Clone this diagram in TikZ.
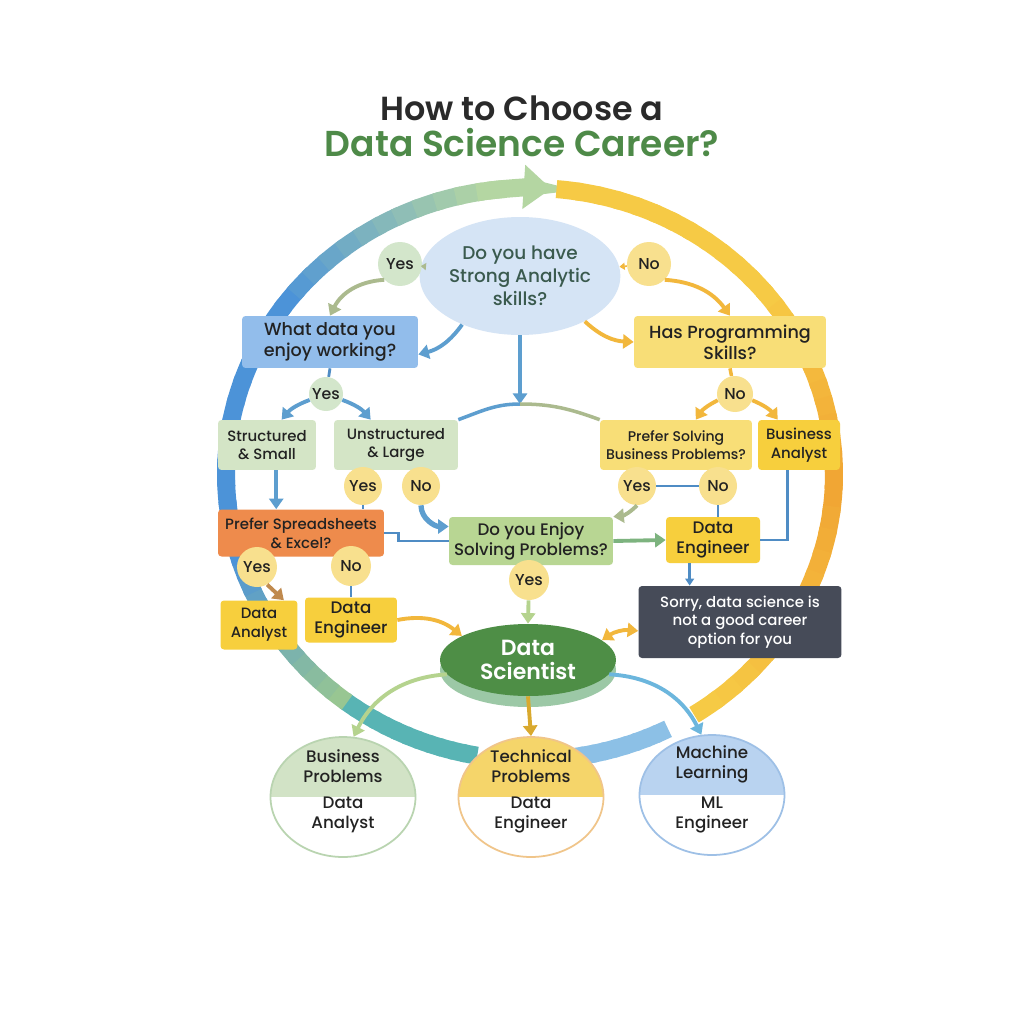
\documentclass[tikz,border=0pt]{standalone}
\usepackage{fontspec}
\setmainfont{Poppins}[UprightFont={* Medium}, BoldFont={* SemiBold}]
\usetikzlibrary{shapes.geometric,arrows.meta,positioning}

\definecolor{titledark}{HTML}{2A2A2A}
\definecolor{titlegreen}{HTML}{4E8A48}
\definecolor{textdark}{HTML}{222222}
\definecolor{qblue}{HTML}{D5E4F5}
\definecolor{qtext}{HTML}{3A5A4E}
\definecolor{boxblue}{HTML}{92BDEB}
\definecolor{boxpale}{HTML}{D4E5C6}
\definecolor{boxyellow}{HTML}{F8DE77}
\definecolor{boxgold}{HTML}{F7CF3D}
\definecolor{boxorange}{HTML}{EE8B4C}
\definecolor{boxlime}{HTML}{B8D693}
\definecolor{darkbox}{HTML}{464B58}
\definecolor{dsgreen}{HTML}{4E8E46}
\definecolor{dsrim}{HTML}{9CC8A6}
\definecolor{yesgreen}{HTML}{D3E6CB}
\definecolor{yesyellow}{HTML}{F8E08E}
\definecolor{arrowblue}{HTML}{5D9ECF}
\definecolor{arrowolive}{HTML}{ABBA8E}
\definecolor{arrowyellow}{HTML}{F2B73C}
\definecolor{arrowbrown}{HTML}{C08A4E}
\definecolor{arrowlime}{HTML}{B5D38E}
\definecolor{arrowgreen}{HTML}{7DB37F}
\definecolor{arrowsky}{HTML}{6CB6DD}
\definecolor{arrowgold}{HTML}{D9A92E}
\definecolor{linkblue}{HTML}{4F8CC4}
\definecolor{ringteal}{HTML}{58B4B4}
\definecolor{ringgreen}{HTML}{98C692}
\definecolor{ringblue}{HTML}{4C93D8}
\definecolor{ringpale}{HTML}{B4D6A2}
\definecolor{ringyellow}{HTML}{F6CA45}
\definecolor{ringorange}{HTML}{F1A634}
\definecolor{ringbblue}{HTML}{8CC0E6}
\definecolor{resgreen}{HTML}{D2E3C6}
\definecolor{resgreenline}{HTML}{B9D4B0}
\definecolor{restech}{HTML}{F5D56A}
\definecolor{restechline}{HTML}{F0C58A}
\definecolor{resml}{HTML}{B9D3F0}
\definecolor{resmlline}{HTML}{9EC0E6}

% one piece of the big ring, coloured from #3 to #4
\newcommand{\ringpart}[4]{%
  \foreach \i in {0,...,11}{
    \pgfmathsetmacro\ringa{#1+(#2-#1)*\i/12}
    \pgfmathsetmacro\ringb{#1+(#2-#1)*(\i+1.3)/12}
    \pgfmathtruncatemacro\ringmix{100-\i*100/11}
    \draw[ringline, #3!\ringmix!#4] ({530+304*cos(\ringa)},{474+286*sin(\ringa)})
      arc[start angle=\ringa, end angle=\ringb, x radius=304, y radius=286];
  }}

\begin{document}
\begin{tikzpicture}[x=0.02cm, y=-0.02cm,
    every node/.style={font=\fontsize{9.5}{11.5}\selectfont, text=textdark, align=center},
    ringline/.style={line width=0.36cm},
    qbox/.style={rounded corners=2pt, minimum height=1cm, inner sep=1pt},
    ans/.style={circle, inner sep=0pt, minimum size=0.76cm, font=\fontsize{9}{10}\selectfont},
    arr/.style={-{Triangle[length=6pt,width=8pt]}, line width=2.2pt},
    link/.style={line width=1.6pt, color=linkblue},
    result/.style={ellipse, minimum width=2.9cm, minimum height=2.4cm, line width=1pt, inner sep=0pt}
]
\path[use as bounding box, fill=white] (0,0) rectangle (1024,1024);

% Title
\node[font=\fontsize{19}{22}\selectfont\bfseries, text=titledark] (title1) at (522,108) {How to Choose a};
\node[font=\fontsize{20.5}{23}\selectfont\bfseries, text=titlegreen] (title2) at (522,143) {Data Science Career?};

% Ring
\ringpart{100}{127}{ringteal}{ringteal}
\ringpart{127}{165}{ringgreen}{ringblue}
\ringpart{165}{215}{ringblue}{ringblue}
\ringpart{215}{264}{ringblue}{ringpale}
\draw[ringline, ringpale, -{Triangle[length=0.55cm,width=0.85cm]}] ({530+304*cos(262)},{474+286*sin(262)})
  arc[start angle=262, end angle=274, x radius=304, y radius=286];
\ringpart{275}{320}{ringyellow}{ringyellow}
\ringpart{320}{362}{ringyellow}{ringorange}
\ringpart{362}{416}{ringorange}{ringyellow}
\ringpart{423}{448}{ringbblue}{ringbblue}

% Question
\node[ellipse, fill=qblue, minimum width=3.8cm, minimum height=2.36cm, inner sep=0pt, text=qtext,
  font=\fontsize{10.5}{13}\selectfont] (analytic) at (520,276) {Do you have\\Strong Analytic\\skills?};
\node[ans, fill=yesgreen, minimum size=0.88cm] (yesA) at (400,264) {Yes};
\node[ans, fill=yesyellow, minimum size=0.88cm] (noA) at (649,264) {No};
\coordinate (innerTop) at (520,404);

% Left side
\node[qbox, fill=boxblue, minimum width=3.52cm, minimum height=1.04cm, font=\fontsize{10}{12}\selectfont] (whatdata) at (330,342) {What data you\\enjoy working?};
\node[ans, fill=yesgreen, minimum size=0.68cm] (yesB) at (326,394) {Yes};
\node[qbox, fill=boxpale, minimum width=1.96cm, font=\fontsize{8.5}{10.5}\selectfont] (structured) at (267,445) {Structured\\\& Small};
\node[qbox, fill=boxpale, minimum width=2.48cm, font=\fontsize{8.5}{10.5}\selectfont] (unstructured) at (396,445) {Unstructured\\\& Large};
\node[ans, fill=yesyellow] (yesC) at (363,486) {Yes};
\node[ans, fill=yesyellow] (noC) at (421,486) {No};
\node[qbox, fill=boxorange, minimum width=3.32cm, minimum height=0.94cm, font=\fontsize{8.5}{11}\selectfont] (spreadsheet) at (301,533) {Prefer Spreadsheets\\\& Excel?};
\node[ans, fill=yesyellow, minimum size=0.8cm] (yesD) at (257,567) {Yes};
\node[ans, fill=yesyellow, minimum size=0.8cm] (noD) at (351,566) {No};
\node[qbox, fill=boxgold, minimum width=1.54cm, minimum height=0.98cm, font=\fontsize{8.5}{11}\selectfont] (analystL) at (259,625) {Data\\Analyst};
\node[qbox, fill=boxgold, minimum width=1.84cm, minimum height=0.9cm] (engineerL) at (351,620) {Data\\Engineer};

% Right side
\node[qbox, fill=boxyellow, minimum width=3.84cm, minimum height=1.04cm, font=\fontsize{10}{12}\selectfont] (programming) at (730,342) {Has Programming\\Skills?};
\node[ans, fill=yesyellow, minimum size=0.72cm] (noB) at (735,394) {No};
\node[qbox, fill=boxyellow, minimum width=3.04cm, font=\fontsize{8}{10.5}\selectfont] (business) at (676,445) {Prefer Solving\\Business Problems?};
\node[qbox, fill=boxgold, minimum width=1.64cm, font=\fontsize{8.5}{10.5}\selectfont] (banalyst) at (799,445) {Business\\Analyst};
\node[ans, fill=yesyellow] (yesE) at (637,486) {Yes};
\node[ans, fill=yesyellow] (noE) at (718,486) {No};
\node[qbox, fill=boxgold, minimum width=1.88cm, minimum height=0.92cm] (engineerR) at (713,540) {Data\\Engineer};
\node[qbox, fill=darkbox, text=white, minimum width=4.06cm, minimum height=1.44cm, font=\fontsize{8.5}{10.5}\selectfont] (sorry) at (740,622) {Sorry, data science is\\not a good career\\option for you};

% Middle
\node[qbox, fill=boxlime, minimum width=3.28cm, minimum height=0.96cm] (enjoy) at (531,541) {Do you Enjoy\\Solving Problems?};
\node[ans, fill=yesyellow, minimum size=0.8cm] (yesF) at (529,580) {Yes};
\fill[dsrim] (528,670) ellipse [x radius=88, y radius=37];
\node[ellipse, fill=dsgreen, minimum width=3.52cm, minimum height=1.44cm, inner sep=0pt, text=white,
  font=\fontsize{12.5}{14}\selectfont\bfseries] (scientist) at (528,660) {Data\\Scientist};

% Results
\node[result, draw=resgreenline, path picture={\fill[resgreen] (path picture bounding box.north west) rectangle (path picture bounding box.east);}] (resBusiness) at (343,797) {};
\node (topBusiness) at (343,766) {Business\\Problems};
\node (lowBusiness) at (343,815) {Data\\Analyst};
\node[result, draw=restechline, path picture={\fill[restech] (path picture bounding box.north west) rectangle (path picture bounding box.east);}] (resTechnical) at (531,797) {};
\node (topTechnical) at (531,766) {Technical\\Problems};
\node (lowTechnical) at (531,815) {Data\\Engineer};
\node[result, draw=resmlline, path picture={\fill[resml] (path picture bounding box.north west) rectangle (path picture bounding box.east);}] (resML) at (712,795) {};
\node (topML) at (712,764) {Machine\\Learning};
\node (lowML) at (712,815) {ML\\Engineer};

% Connectors
\draw[-{Triangle[length=3pt,width=4pt]}, line width=1pt, arrowolive] (yesA) -- (analytic);
\draw[-{Triangle[length=3pt,width=4pt]}, line width=1pt, arrowyellow] (noA) -- (analytic);
\draw[arr, arrowolive] (yesA.south west) to[bend right=30] (whatdata.north);
\draw[arr, arrowblue] (analytic.220) to[bend left=20] (whatdata.352);
\draw[arr, arrowyellow] (noA.south east) to[bend left=25] (programming.north);
\draw[arr, arrowyellow] (analytic.-35) to[bend right=20] (programming.west);
\draw[arr, arrowblue] (analytic.south) -- (innerTop);
\draw[line width=2pt, arrowblue] (unstructured.north east) to[out=20, in=180] (innerTop);
\draw[line width=2pt, arrowolive] (innerTop) to[out=0, in=160] (business.north west);

\draw[link] (whatdata.south) -- (yesB);
\draw[arr, arrowblue] (yesB.200) to[bend right=15] (structured.60);
\draw[arr, arrowblue] (yesB.-20) to[bend left=15] (unstructured.135);
\draw[arr, arrowblue] (structured.-70) -- (structured.-70 |- spreadsheet.north);
\draw[link] (yesC) -- (yesC |- spreadsheet.north);
\draw[arr, arrowblue, line width=3pt] (noC.south) to[out=-90, in=180] (enjoy.170);
\draw[link] (spreadsheet.east) -- ++(14,0) |- (enjoy.west);
\draw[arr, arrowbrown] (yesD.-60) -- (analystL.45);
\draw[link] (noD) -- (noD |- engineerL.north);
\draw[arr, arrowyellow] (engineerL.east) to[bend left=25] (scientist.160);

\draw[arr, arrowlime] (yesF) -- (scientist.north);
\draw[arr, arrowgreen] (enjoy.east) -- (engineerR.west);

\draw[line width=2pt, arrowyellow] (programming.south) -- (noB);
\draw[arr, arrowyellow] (noB.200) to[bend right=15] (business.52);
\draw[arr, arrowyellow] (noB.-20) to[bend left=15] (banalyst.130);
\draw[link] (yesE) -- (noE);
\draw[arr, arrowolive] (yesE.south) to[bend left=20] (enjoy.north east);
\draw[link] (noE) -- (noE |- engineerR.north);
\draw[link] (banalyst.-115) |- (engineerR.east);
\draw[link, -{Triangle[length=4pt,width=5pt]}] (engineerR.-135) -- (engineerR.-135 |- sorry.north);
\draw[{Triangle[length=6pt,width=8pt]}-{Triangle[length=6pt,width=8pt]}, line width=2.2pt, arrowyellow] (sorry.185) to[bend right=20] (scientist.15);

\draw[arr, arrowlime] (scientist.190) to[bend right=30] (resBusiness.80);
\draw[arr, arrowgold] (scientist.south) -- (resTechnical.north);
\draw[arr, arrowsky] (scientist.-10) to[bend left=30] (resML.100);
\end{tikzpicture}
\end{document}
